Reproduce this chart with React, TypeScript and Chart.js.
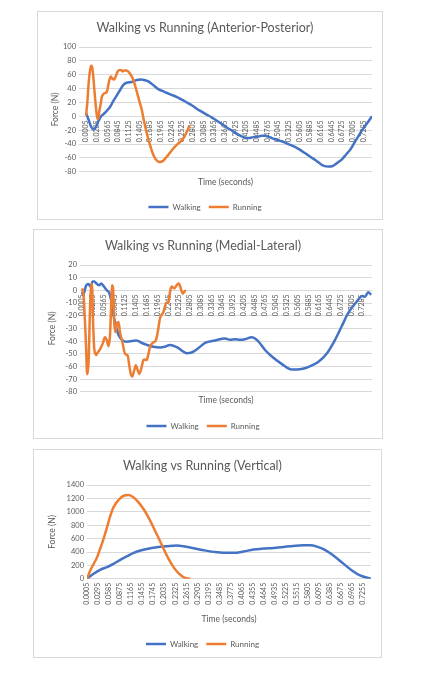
import { useEffect, useRef } from "react"
import { Chart, registerables } from "chart.js"

Chart.register(...registerables)

const BLUE = "#4472C4"
const ORANGE = "#ED7D31"
const TEXT = "#595959"
const GRID = "#d9d9d9"
const FONT = "Lato"

// Anterior-Posterior
const apWalkTime = [0.0005, 0.008, 0.014, 0.02, 0.026, 0.032, 0.04, 0.046, 0.055, 0.063, 0.072, 0.081, 0.09, 0.098, 0.107, 0.12, 0.134, 0.145, 0.155, 0.165, 0.177, 0.188, 0.199, 0.212, 0.225, 0.238, 0.252, 0.265, 0.278, 0.291, 0.304, 0.317, 0.33, 0.343, 0.357, 0.37, 0.383, 0.396, 0.409, 0.418, 0.427, 0.44, 0.453, 0.462, 0.47, 0.48, 0.488, 0.5, 0.514, 0.527, 0.54, 0.558, 0.575, 0.588, 0.602, 0.612, 0.623, 0.637, 0.646, 0.654, 0.663, 0.672, 0.683, 0.694, 0.705, 0.715, 0.724, 0.733, 0.742, 0.751]
const apWalkForce = [5, -6, -15, -19, -16, -8, 0, 3, 8, 13, 22, 30, 38, 45, 48.5, 49.5, 52.5, 53, 52, 50, 45, 40, 37, 34, 31, 28, 24, 20, 16, 11, 6.7, 2.5, -1.4, -6, -11, -16, -20.5, -25, -29, -31, -31.4, -30, -29, -28, -28, -29.5, -31.4, -33.5, -36, -39, -42, -47, -53, -58, -63, -67, -71, -72.5, -72, -69.5, -66, -62, -55, -48, -38, -29, -21, -14, -7, 0]
const apRunTime = [0.0005, 0.004, 0.0066, 0.01, 0.0136, 0.016, 0.018, 0.021, 0.024, 0.027, 0.03, 0.032, 0.035, 0.039, 0.042, 0.048, 0.055, 0.059, 0.062, 0.066, 0.07, 0.074, 0.078, 0.083, 0.088, 0.093, 0.097, 0.101, 0.106, 0.11, 0.114, 0.12, 0.125, 0.13, 0.135, 0.141, 0.147, 0.152, 0.158, 0.164, 0.17, 0.176, 0.182, 0.188, 0.193, 0.198, 0.203, 0.209, 0.216, 0.223, 0.23, 0.236, 0.243, 0.249, 0.254, 0.259, 0.263, 0.268, 0.272]
const apRunForce = [1, 20, 42, 62, 73, 72, 66, 48, 28, 10, -2, -4, 6, 18, 28, 33, 35, 45, 53, 57.6, 54, 53, 57, 64, 67, 66.5, 65, 66, 66, 65, 63, 58, 52, 43, 33, 21, 9, -5, -20, -33, -44, -54, -61, -64.5, -66, -65.5, -64, -60.5, -56, -51, -46, -42.5, -39, -36, -33, -29, -24.5, -19, -13]
const apTicks = [0.0005, 0.0285, 0.0565, 0.0845, 0.1125, 0.1405, 0.1685, 0.1965, 0.2245, 0.2525, 0.2805, 0.3085, 0.3365, 0.3645, 0.3925, 0.4205, 0.4485, 0.4765, 0.5045, 0.5325, 0.5605, 0.5885, 0.6165, 0.6445, 0.6725, 0.7005, 0.7285]

// Medial-Lateral
const mlWalkTime = [0.0005, 0.003, 0.011, 0.017, 0.022, 0.028, 0.032, 0.039, 0.045, 0.05, 0.056, 0.065, 0.071, 0.076, 0.08, 0.085, 0.09, 0.095, 0.104, 0.117, 0.13, 0.142, 0.156, 0.169, 0.186, 0.203, 0.215, 0.229, 0.24, 0.251, 0.262, 0.272, 0.285, 0.303, 0.32, 0.346, 0.372, 0.385, 0.398, 0.411, 0.424, 0.441, 0.458, 0.476, 0.493, 0.519, 0.545, 0.571, 0.588, 0.614, 0.636, 0.658, 0.675, 0.692, 0.714, 0.729, 0.736, 0.744, 0.752]
const mlWalkForce = [-1, -4, 4, 5, 3, 7, 7, 5, 4, 5.5, 3.5, 0, -2, -8, -16, -24, -30, -35, -39, -40.5, -40, -39.5, -41.5, -43, -44.5, -45, -44.5, -43, -44, -45.5, -48, -49.5, -49, -45.5, -41.5, -39.5, -38, -39, -38.5, -39, -38.5, -37, -40, -47, -52, -58, -62.5, -62, -60.5, -56.5, -50, -39, -28.5, -18, -9, -4.5, -5, -1.5, -3.5]
const mlRunTime = [0.0005, 0.002, 0.004, 0.008, 0.011, 0.013, 0.015, 0.018, 0.021, 0.024, 0.026, 0.029, 0.032, 0.037, 0.041, 0.047, 0.054, 0.06, 0.065, 0.069, 0.073, 0.076, 0.078, 0.081, 0.084, 0.087, 0.091, 0.095, 0.099, 0.106, 0.112, 0.119, 0.123, 0.127, 0.131, 0.136, 0.14, 0.145, 0.149, 0.154, 0.16, 0.164, 0.168, 0.173, 0.177, 0.186, 0.192, 0.197, 0.203, 0.212, 0.219, 0.225, 0.229, 0.233, 0.24, 0.246, 0.252, 0.257, 0.262, 0.268, 0.271]
const mlRunForce = [1.5, 0, -2.5, -25, -46, -64, -66, -51, -14, 3, 5, -25, -46, -51, -49, -46.5, -42, -37, -39.5, -44, -35.5, -12, 4, 1.5, -25, -33, -26, -25, -33, -42, -50, -51.5, -59, -66, -68, -63, -59, -63, -66, -62, -55, -54.5, -55, -50, -44.5, -41, -39.5, -33, -22, -17, -10, -9, -1, 3, 1.5, 4, 5.5, 1.5, -2.5, -0.5, -0.5]
const mlTicks = [0.0005, 0.0285, 0.0565, 0.0845, 0.1125, 0.1405, 0.1685, 0.1965, 0.2245, 0.2525, 0.2805, 0.3085, 0.3365, 0.3645, 0.3925, 0.4205, 0.4485, 0.4765, 0.5045, 0.5325, 0.5605, 0.5885, 0.6165, 0.6445, 0.6725, 0.7005, 0.7285]

// Vertical
const vWalkTime = [0.0005, 0.018, 0.035, 0.053, 0.07, 0.088, 0.106, 0.123, 0.141, 0.158, 0.184, 0.211, 0.237, 0.254, 0.281, 0.307, 0.333, 0.359, 0.386, 0.412, 0.438, 0.464, 0.491, 0.517, 0.543, 0.569, 0.587, 0.605, 0.626, 0.648, 0.675, 0.697, 0.718, 0.747]
const vWalkForce = [0, 74, 134, 174, 223, 283, 337, 387, 422, 446, 471, 486, 496, 486, 456, 427, 402, 387, 387, 407, 436, 451, 461, 476, 491, 501, 501, 481, 432, 347, 223, 124, 50, 0]
const vRunTime = [0.0005, 0.009, 0.018, 0.027, 0.035, 0.044, 0.053, 0.062, 0.07, 0.084, 0.097, 0.11, 0.123, 0.136, 0.149, 0.162, 0.175, 0.189, 0.202, 0.215, 0.228, 0.241, 0.254, 0.272]
const vRunForce = [0, 124, 223, 322, 446, 595, 769, 942, 1066, 1180, 1240, 1250, 1215, 1141, 1042, 918, 769, 605, 446, 298, 174, 84, 25, 0]
const vTicks = [0.0005, 0.0295, 0.0585, 0.0875, 0.1165, 0.1455, 0.1745, 0.2035, 0.2325, 0.2615, 0.2905, 0.3195, 0.3485, 0.3775, 0.4065, 0.4355, 0.4645, 0.4935, 0.5225, 0.5515, 0.5805, 0.6095, 0.6385, 0.6675, 0.6965, 0.7255]

interface ForceChartProps {
  title: string
  walkTime: number[]
  walkForce: number[]
  runTime: number[]
  runForce: number[]
  timeTicks: number[]
  xMin: number
  xMax: number
  yMin: number
  yMax: number
  yStep: number
  yAxisWidth: number
  yTitlePad: number
  width: number
  height: number
  timePad: { top: number; bottom: number }
  bottomPad: number
}

function ForceChart(props: ForceChartProps) {
  const chartRef = useRef<HTMLCanvasElement>(null)

  useEffect(() => {
    if (!chartRef.current) return
    const ctx = chartRef.current.getContext("2d")
    if (!ctx) return

    const chart = new Chart(ctx, {
      type: "line",
      data: {
        datasets: [
          {
            label: "Walking",
            data: props.walkTime.map((t, i) => ({ x: t, y: props.walkForce[i] })),
            borderColor: BLUE,
            backgroundColor: BLUE,
            borderWidth: 2.5,
            pointRadius: 0,
            cubicInterpolationMode: "monotone",
            order: 1,
          },
          {
            label: "Running",
            data: props.runTime.map((t, i) => ({ x: t, y: props.runForce[i] })),
            borderColor: ORANGE,
            backgroundColor: ORANGE,
            borderWidth: 2.5,
            pointRadius: 0,
            cubicInterpolationMode: "monotone",
            order: 0,
          },
        ],
      },
      options: {
        animation: false,
        responsive: false,
        layout: { padding: { left: 0, right: 10, top: 0, bottom: props.bottomPad } },
        plugins: {
          title: {
            display: true,
            text: props.title,
            color: TEXT,
            font: { family: FONT, size: 12.5, weight: "normal" },
            padding: { top: 8, bottom: 12 },
          },
          subtitle: {
            display: true,
            text: "Time (seconds)",
            position: "bottom",
            fullSize: false,
            weight: 500,
            color: TEXT,
            font: { family: FONT, size: 8.5 },
            padding: props.timePad,
          },
          legend: {
            position: "bottom",
            labels: {
              usePointStyle: true,
              pointStyle: "line",
              pointStyleWidth: 20,
              color: TEXT,
              font: { family: FONT, size: 8 },
              padding: 8,
              sort: (a, b) => (a.datasetIndex ?? 0) - (b.datasetIndex ?? 0),
            },
          },
          tooltip: { enabled: false },
        },
        scales: {
          x: {
            type: "linear",
            position: { y: 0 },
            min: props.xMin,
            max: props.xMax,
            afterBuildTicks: (axis) => {
              axis.ticks = props.timeTicks.map((value) => ({ value }))
            },
            grid: { display: false, drawTicks: false },
            border: { display: false },
            ticks: {
              autoSkip: false,
              minRotation: 90,
              maxRotation: 90,
              padding: 4,
              color: TEXT,
              font: { family: FONT, size: 7 },
              callback: (v) => Number(v).toFixed(4),
            },
          },
          y: {
            min: props.yMin,
            max: props.yMax,
            afterFit: (axis) => {
              axis.width = props.yAxisWidth
            },
            grid: { color: GRID, drawTicks: false },
            border: { display: false },
            ticks: {
              stepSize: props.yStep,
              padding: 3,
              color: TEXT,
              font: { family: FONT, size: 7.5 },
              callback: (v) => String(v),
            },
            title: {
              display: true,
              text: "Force (N)",
              color: TEXT,
              font: { family: FONT, size: 8.5 },
              padding: { top: props.yTitlePad, bottom: 0 },
            },
          },
        },
      },
    })

    return () => {
      chart.destroy()
    }
  }, [props])

  return <canvas ref={chartRef} width={props.width} height={props.height} style={{ display: "block" }} />
}

const boxStyle = (left: number, top: number, width: number, height: number): React.CSSProperties => ({
  position: "absolute",
  left,
  top,
  width,
  height,
  boxSizing: "border-box",
  border: "1px solid #d9d9d9",
  background: "#fff",
})

export default function App() {
  return (
    <div>
      <div style={boxStyle(37, 11, 346, 209)}>
        <ForceChart
          title="Walking vs Running (Anterior-Posterior)"
          walkTime={apWalkTime}
          walkForce={apWalkForce}
          runTime={apRunTime}
          runForce={apRunForce}
          timeTicks={apTicks}
          xMin={-0.0179}
          xMax={0.751}
          yMin={-80}
          yMax={100}
          yStep={20}
          yAxisWidth={41}
          yTitlePad={12}
          width={344}
          height={207}
          timePad={{ top: 5, bottom: 8 }}
          bottomPad={-2}
        />
      </div>
      <div style={boxStyle(33, 229, 350, 210)}>
        <ForceChart
          title="Walking vs Running (Medial-Lateral)"
          walkTime={mlWalkTime}
          walkForce={mlWalkForce}
          runTime={mlRunTime}
          runForce={mlRunForce}
          timeTicks={mlTicks}
          xMin={-0.005}
          xMax={0.754}
          yMin={-80}
          yMax={20}
          yStep={10}
          yAxisWidth={46}
          yTitlePad={13}
          width={348}
          height={208}
          timePad={{ top: 3, bottom: 9 }}
          bottomPad={-2}
        />
      </div>
      <div style={boxStyle(33, 449, 349, 209)}>
        <ForceChart
          title="Walking vs Running (Vertical)"
          walkTime={vWalkTime}
          walkForce={vWalkForce}
          runTime={vRunTime}
          runForce={vRunForce}
          timeTicks={vTicks}
          xMin={0.0005}
          xMax={0.747}
          yMin={0}
          yMax={1400}
          yStep={200}
          yAxisWidth={53}
          yTitlePad={13}
          width={347}
          height={207}
          timePad={{ top: 35, bottom: 8 }}
          bottomPad={-1}
        />
      </div>
    </div>
  )
}
